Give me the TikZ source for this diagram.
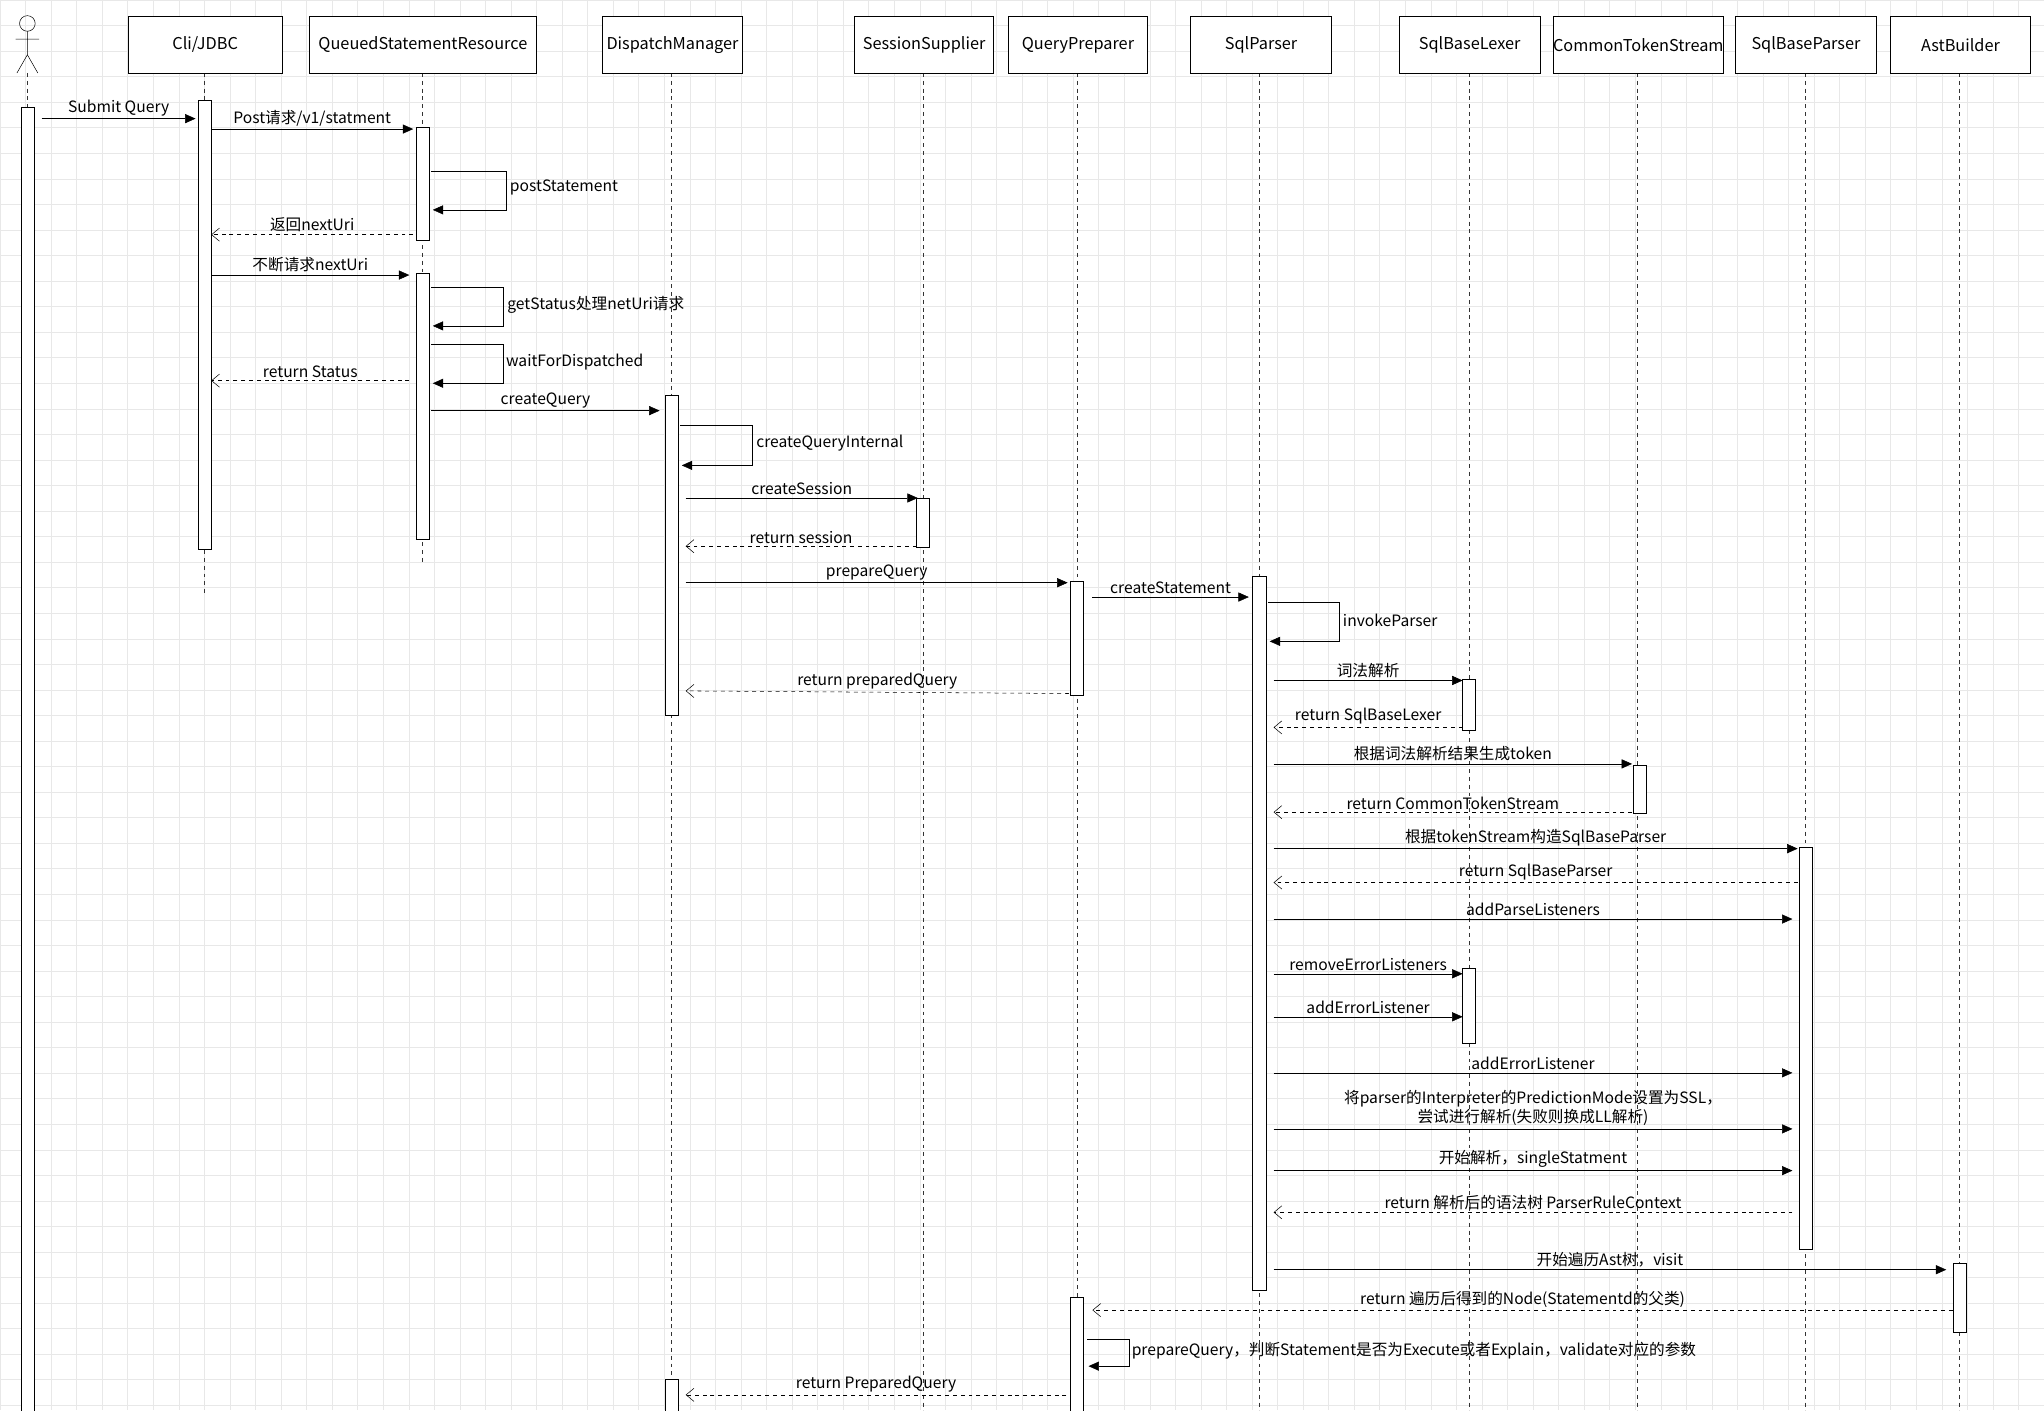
\documentclass[tikz,border=0pt]{standalone}
\usepackage{fontspec}
\setmainfont{Noto Sans CJK SC}
\usetikzlibrary{arrows.meta}
\begin{document}
\begin{tikzpicture}[x=1pt,y=-1pt,
  hdr/.style={draw,thick,fill=white,inner sep=0pt,font=\fontsize{12.5}{14}\selectfont},
  bar/.style={draw,fill=white},
  life/.style={dashed,black!80},
  msg/.style={-{Triangle[length=8,width=7]}},
  ret/.style={dashed,-{Straight Barb[length=6,width=10]}},
  lbl/.style={font=\fontsize{12}{13}\selectfont,inner sep=1pt,yshift=1pt}]
\useasboundingbox (0,0) rectangle (1568,1082);
\fill[white] (0,0) rectangle (1568,1082);
\foreach \i in {0,...,79} \draw[black!9] (\i*19.6,0) -- (\i*19.6,1082);
\foreach \i in {0,...,55} \draw[black!9] (0,\i*19.6) -- (1568,\i*19.6);
% lifelines
\foreach \x/\e in {21/1082,157/457,324/432,515/1082,708/1082,826/1082,966/1082,1127/1082,1256/1082,1385/1082,1503/1082}
  \draw[life] (\x,56) -- (\x,\e);
% actor
\draw (21,18) circle (6);
\draw (21,24) -- (21,42) (12,30) -- (30,30) (21,42) -- (13,56) (21,42) -- (29,56);
% headers
\foreach \a/\b/\t in {98/216/{Cli/JDBC},237/411/QueuedStatementResource,462/569/DispatchManager,655/762/SessionSupplier,773/880/QueryPreparer,913/1021/SqlParser,1073/1181/SqlBaseLexer,1191/1320/CommonTokenStream,1331/1439/SqlBaseParser,1450/1557/AstBuilder}
  \node[hdr,minimum width=\b-\a,minimum height=44,anchor=north west] at (\a,12) {\t};
% bars
\foreach \x/\a/\b in {21/82/1085,157/77/421,324/98/184,324/210/414,515/303/549,515/1058/1085,708/382/420,826/446/533,826/995/1085,966/442/990,1127/521/560,1127/743/800,1258/587/624,1385/650/958,1503/969/1022}
  \draw[bar] (\x-5,\a) rectangle (\x+5,\b);
% messages
\draw[msg] (32,91) -- (150,91) node[lbl,midway,above] {Submit Query};
\draw[msg] (162,99) -- (317,99) node[lbl,midway,above] {Post请求/v1/statment};
\draw[msg] (331,131) -- (388,131) -- (388,161) -- (332,161);
\node[lbl,anchor=west] at (390,145) {postStatement};
\draw[ret] (317,180) -- (162,180) node[lbl,midway,above] {返回nextUri};
\draw[msg] (162,211) -- (314,211) node[lbl,midway,above] {不断请求nextUri};
\draw[msg] (331,220) -- (386,220) -- (386,250) -- (332,250);
\node[lbl,anchor=west] at (388,235) {getStatus处理netUri请求};
\draw[msg] (331,264) -- (386,264) -- (386,294) -- (332,294);
\node[lbl,anchor=west] at (387,279) {waitForDispatched};
\draw[ret] (314,292) -- (162,292) node[lbl,midway,above] {return Status};
\draw[msg] (331,315) -- (506,315) node[lbl,midway,above] {createQuery};
\draw[msg] (522,326) -- (577,326) -- (577,357) -- (523,357);
\node[lbl,anchor=west] at (579,341) {createQueryInternal};
\draw[msg] (526,382) -- (704,382) node[lbl,midway,above] {createSession};
\draw[ret] (703,419) -- (526,419) node[lbl,midway,above] {return session};
\draw[msg] (526,447) -- (819,447) node[lbl,pos=0.5,above] {prepareQuery};
\draw[ret] (820,532) -- (526,530) node[lbl,midway,above] {return preparedQuery};
\draw[msg] (838,458) -- (958,458) node[lbl,midway,above] {createStatement};
\draw[msg] (973,462) -- (1027,462) -- (1027,492) -- (974,492);
\node[lbl,anchor=west] at (1029,477) {invokeParser};
\draw[msg] (977,522) -- (1122,522) node[lbl,midway,above] {词法解析};
\draw[ret] (1122,558) -- (977,558) node[lbl,midway,above] {return SqlBaseLexer};
\draw[msg] (977,586) -- (1252,586) node[lbl,midway,above] {根据词法解析结果生成token};
\draw[ret] (1252,623) -- (977,623) node[lbl,midway,above] {return CommonTokenStream};
\draw[msg] (977,651) -- (1379,651) node[lbl,midway,above] {根据tokenStream构造SqlBaseParser};
\draw[ret] (1379,677) -- (977,677) node[lbl,midway,above] {return SqlBaseParser};
\draw[msg] (977,705) -- (1375,705) node[lbl,midway,above] {addParseListeners};
\draw[msg] (977,747) -- (1122,747) node[lbl,midway,above] {removeErrorListeners};
\draw[msg] (977,780) -- (1122,780) node[lbl,midway,above] {addErrorListener};
\draw[msg] (977,823) -- (1375,823) node[lbl,midway,above] {addErrorListener};
\draw[msg] (977,866) -- (1375,866) node[lbl,midway,above,align=center,font=\fontsize{12}{15}\selectfont] {将parser的Interpreter的PredictionMode设置为SSL，\\尝试进行解析(失败则换成LL解析)};
\draw[msg] (977,898) -- (1375,898) node[lbl,midway,above] {开始解析，singleStatment};
\draw[ret] (1375,930) -- (977,930) node[lbl,midway,above] {return 解析后的语法树 ParserRuleContext};
\draw[msg] (977,974) -- (1493,974) node[lbl,midway,above] {开始遍历Ast树，visit};
\draw[ret] (1498,1005) -- (838,1005) node[lbl,midway,above] {return 遍历后得到的Node(Statementd的父类)};
\draw[msg] (834,1027) -- (866,1027) -- (866,1048) -- (835,1048);
\node[lbl,anchor=west] at (867,1037) {prepareQuery，判断Statement是否为Execute或者Explain，validate对应的参数};
\draw[ret] (818,1070) -- (526,1070) node[lbl,midway,above] {return PreparedQuery};
\end{tikzpicture}
\end{document}
